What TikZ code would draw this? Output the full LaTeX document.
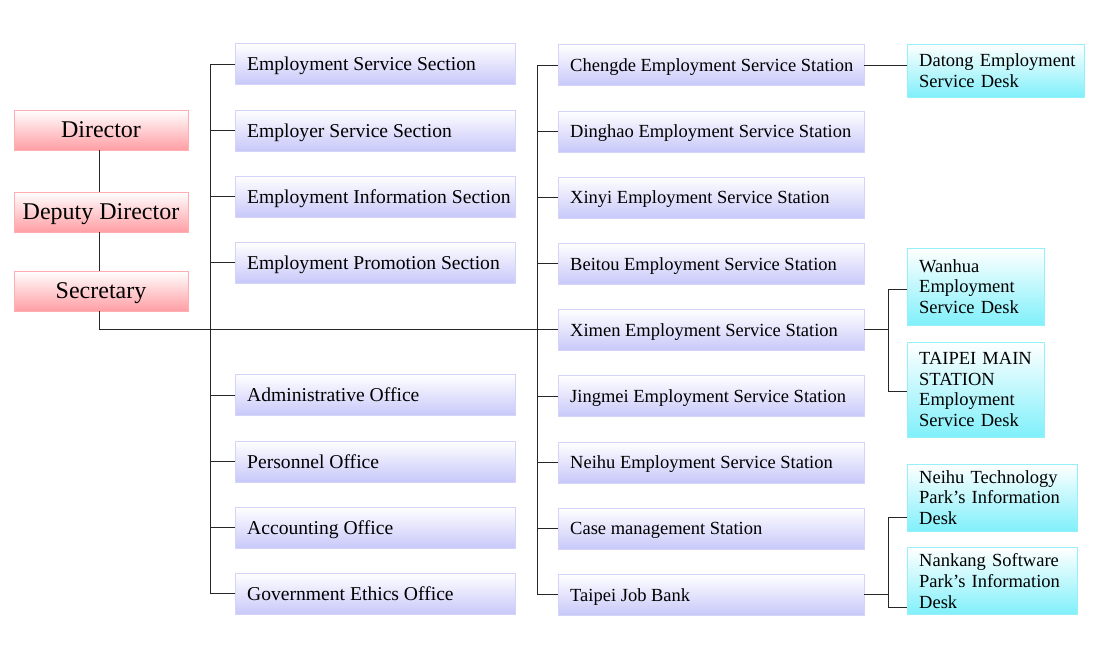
\documentclass[tikz,border=0pt]{standalone}
\usepackage{fontspec}
\setmainfont{Liberation Serif}
\usetikzlibrary{positioning}
\definecolor{headbot}{RGB}{255,158,164}
\definecolor{headline}{RGB}{255,175,178}
\definecolor{secbot}{RGB}{200,200,250}
\definecolor{secline}{RGB}{212,212,248}
\definecolor{deskbot}{RGB}{128,240,250}
\definecolor{deskline}{RGB}{150,240,250}

\begin{document}
\begin{tikzpicture}[x=1pt, y=-1pt,
    headbox/.style={rectangle, draw=headline, top color=white, bottom color=headbot, minimum width=174pt, minimum height=40pt, inner sep=0pt, text depth=0pt, font=\fontsize{24}{28}\selectfont},
    secbox/.style={rectangle, draw=secline, top color=white, bottom color=secbot, inner xsep=12pt, inner ysep=0pt, minimum height=41pt, text depth=0pt, font=\fontsize{19.6}{24}\selectfont,
        execute at begin node={\hbox to 256pt\bgroup}, execute at end node={\hss\egroup}},
    stabox/.style={rectangle, draw=secline, top color=white, bottom color=secbot, inner xsep=12pt, inner ysep=0pt, minimum height=41pt, text depth=0pt, font=\fontsize{18.5}{21}\selectfont,
        execute at begin node={\hbox to 282pt\bgroup}, execute at end node={\hss\egroup}},
    deskbox/.style={rectangle, draw=deskline, top color=white, bottom color=deskbot, align=left, inner xsep=12pt, inner ysep=0pt, font=\fontsize{18.5}{20.7}\selectfont},
    link/.style={draw=black!85, line width=0.9pt}
]
\useasboundingbox (0,0) rectangle (1100,646);

% heads
\node[headbox](dir) at (101,130){Director};
\node[headbox](dep) at (101,212){Deputy Director};
\node[headbox](sec) at (101,291){Secretary};

% sections and offices
\node[secbox, anchor=west](es) at (235,64){Employment Service Section};
\node[secbox](eps)[below = 24.8pt of es]{Employer Service Section};
\node[secbox](eis)[below = 24.8pt of eps]{Employment Information Section};
\node[secbox](epr)[below = 24.8pt of eis]{Employment Promotion Section};
\node[secbox](ao)[below = 91pt of epr]{Administrative Office};
\node[secbox](po)[below = 24.8pt of ao]{Personnel Office};
\node[secbox](acc)[below = 24.8pt of po]{Accounting Office};
\node[secbox](geo)[below = 24.8pt of acc]{Government Ethics Office};

% stations
\node[stabox, anchor=west](cst) at (558,65){Chengde Employment Service Station};
\node[stabox](dst)[below = 24.8pt of cst]{Dinghao Employment Service Station};
\node[stabox](xst)[below = 24.8pt of dst]{Xinyi Employment Service Station};
\node[stabox](bst)[below = 24.8pt of xst]{Beitou Employment Service Station};
\node[stabox](xmst)[below = 24.8pt of bst]{Ximen Employment Service Station};
\node[stabox](jst)[below = 24.8pt of xmst]{Jingmei Employment Service Station};
\node[stabox](nst)[below = 24.8pt of jst]{Neihu Employment Service Station};
\node[stabox](cms)[below = 24.8pt of nst]{Case management Station};
\node[stabox](tjb)[below = 24.8pt of cms]{Taipei Job Bank};

% desks
\node[deskbox, anchor=west, text width=153pt, minimum height=53pt](dtd) at (907,70.5){\mbox{Datong Employment}\\Service Desk};
\node[deskbox, anchor=west, text width=113pt, minimum height=77pt](whd) at (907,286.5){Wanhua\\Employment\\Service Desk};
\node[deskbox, anchor=west, text width=113pt, minimum height=95pt](tmd) at (907,389.5){\mbox{TAIPEI MAIN}\\STATION\\Employment\\Service Desk};
\node[deskbox, anchor=west, text width=146pt, minimum height=67pt](ntd) at (907,497.5){\mbox{Neihu Technology}\\\mbox{Park’s Information}\\Desk};
\node[deskbox, anchor=west, text width=146pt, minimum height=67pt](nsd) at (907,581){\mbox{Nankang Software}\\\mbox{Park’s Information}\\Desk};

% connectors
\draw[link] ([xshift=-2pt]dir.south) -- ([xshift=-2pt]dep.north);
\draw[link] ([xshift=-2pt]dep.south) -- ([xshift=-2pt]sec.north);
\draw[link] ([xshift=-2pt]sec.south) |- (xmst.west);

\draw[link] (es.west) -- ++(-25,0) coordinate (ta) |- (geo.west);
\foreach \n in {eps, eis, epr, ao, po, acc}
    \draw[link] (\n.west) -- (\n.west -| ta);

\draw[link] (cst.west) -- ++(-21,0) coordinate (tb) |- (tjb.west);
\foreach \n in {dst, xst, bst, jst, nst, cms}
    \draw[link] (\n.west) -- (\n.west -| tb);

\draw[link] (cst.east) -- (cst.east -| dtd.west);
\draw[link] (xmst.east) -- ++(24,0) coordinate (tc);
\draw[link] ([yshift=-3pt]whd.west) -| (tc) |- ([yshift=-2pt]tmd.west);
\draw[link] (tjb.east) -- ++(24,0) coordinate (td);
\draw[link] ([yshift=-19.5pt]ntd.west) -| (td) |- ([yshift=-26pt]nsd.west);
\end{tikzpicture}
\end{document}
